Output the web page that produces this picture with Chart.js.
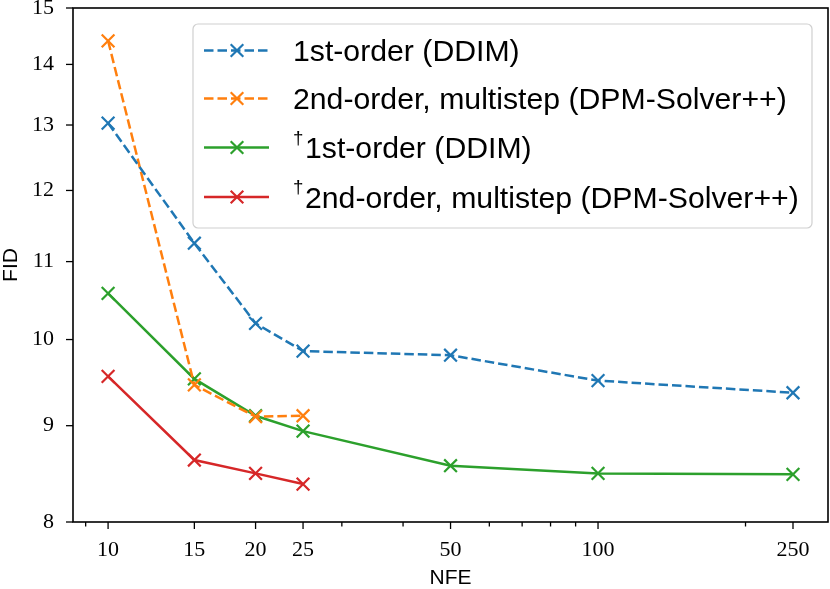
<!DOCTYPE html>
<html>
<head>
<meta charset="utf-8">
<script src="https://cdn.jsdelivr.net/npm/chart.js@4/dist/chart.umd.min.js"></script>
<style>
  html, body { margin: 0; padding: 0; background: #fff; }
  canvas { display: block; }
</style>
</head>
<body>
<canvas id="fidChart" width="830" height="589"></canvas>
<script>
// NFE values on the x axis
const nfe = [10, 15, 20, 25, 50, 100, 250];
const nfeShort = [10, 15, 20, 25];
const xMinorTicks = [9, 30, 40, 60, 70, 80, 90, 200];
const yTicks = [8, 9, 10, 11, 12, 13, 14, 15];

// FID values
const ddim = [13.03, 11.25, 10.20, 9.86, 9.81, 9.51, 9.37];
const dpmSolver = [14.41, 9.46, 9.10, 9.11];
const ddimDagger = [10.58, 9.53, 9.11, 8.94, 8.57, 8.49, 8.48];
const dpmSolverDagger = [9.56, 8.63, 8.49, 8.38];

const seriesLabels = [
  "1st-order (DDIM)",
  "2nd-order, multistep (DPM-Solver++)",
  "†1st-order (DDIM)",
  "†2nd-order, multistep (DPM-Solver++)"
];
const colors = ["#1f77b4", "#ff7f0e", "#2ca02c", "#d62728"];
const DASH = [9.5, 4];

function pts(xs, ys) {
  return xs.map((x, i) => ({ x: x, y: ys[i] }));
}

function makeSet(label, xs, ys, color, dashed) {
  return {
    label: label,
    data: pts(xs, ys),
    borderColor: color,
    backgroundColor: color,
    borderWidth: 2.5,
    borderDash: dashed ? DASH : [],
    pointStyle: "crossRot",
    pointRadius: 9,
    pointBorderWidth: 2.2,
    pointBorderColor: color,
    pointBackgroundColor: "rgba(0,0,0,0)",
    tension: 0,
    fill: false
  };
}

// spines, tick marks and the boxed legend
const framePlugin = {
  id: "frame",
  afterDatasetsDraw(chart) {
    const ctx = chart.ctx;
    const a = chart.chartArea;
    const xs = chart.scales.x, ys = chart.scales.y;
    ctx.save();
    ctx.strokeStyle = "#000";
    ctx.lineWidth = 1.3;
    ctx.setLineDash([]);
    nfe.forEach(v => {
      const px = xs.getPixelForValue(v);
      ctx.beginPath(); ctx.moveTo(px, a.bottom); ctx.lineTo(px, a.bottom + 7); ctx.stroke();
    });
    xMinorTicks.forEach(v => {
      const px = xs.getPixelForValue(v);
      ctx.beginPath(); ctx.moveTo(px, a.bottom); ctx.lineTo(px, a.bottom + 4.5); ctx.stroke();
    });
    yTicks.forEach(v => {
      const py = ys.getPixelForValue(v);
      ctx.beginPath(); ctx.moveTo(a.left, py); ctx.lineTo(a.left - 7, py); ctx.stroke();
    });
    ctx.lineWidth = 1.6;
    ctx.strokeRect(a.left, a.top, a.right - a.left, a.bottom - a.top);

    // legend box
    const bx = 193, by = 24, bw = 619, bh = 204, r = 5;
    ctx.beginPath();
    ctx.moveTo(bx + r, by);
    ctx.arcTo(bx + bw, by, bx + bw, by + bh, r);
    ctx.arcTo(bx + bw, by + bh, bx, by + bh, r);
    ctx.arcTo(bx, by + bh, bx, by, r);
    ctx.arcTo(bx, by, bx + bw, by, r);
    ctx.closePath();
    ctx.fillStyle = "rgba(255,255,255,0.8)";
    ctx.fill();
    ctx.strokeStyle = "#d0d0d0";
    ctx.lineWidth = 1.2;
    ctx.stroke();

    // fit the longest label to the measured width
    ctx.font = '100px "Liberation Sans"';
    const wLong = ctx.measureText(seriesLabels[1]).width;
    const fs = 100 * 494 / wLong;
    const rows = [50.5, 98.5, 147.5, 197];
    chart.data.datasets.forEach((ds, i) => {
      const y = rows[i];
      ctx.strokeStyle = ds.borderColor;
      ctx.lineWidth = ds.borderWidth;
      ctx.setLineDash(ds.borderDash);
      ctx.beginPath(); ctx.moveTo(204, y); ctx.lineTo(269, y); ctx.stroke();
      ctx.setLineDash([]);
      ctx.lineWidth = ds.pointBorderWidth;
      const m = 6.3;
      ctx.beginPath();
      ctx.moveTo(237 - m, y - m); ctx.lineTo(237 + m, y + m);
      ctx.moveTo(237 - m, y + m); ctx.lineTo(237 + m, y - m);
      ctx.stroke();

      ctx.fillStyle = "#000";
      ctx.textBaseline = "alphabetic";
      ctx.textAlign = "left";
      let text = ds.label;
      let tx = 293;
      if (text.startsWith("†")) {
        ctx.font = (fs * 0.62) + 'px "Liberation Sans"';
        ctx.fillText("†", 293, y - 4);
        text = text.slice(1);
        tx = 305;
      }
      ctx.font = fs + 'px "Liberation Sans"';
      ctx.fillText(text, tx, y + fs * 0.358);
    });
    ctx.restore();
  }
};

const ctx = document.getElementById("fidChart").getContext("2d");
new Chart(ctx, {
  type: "line",
  data: {
    datasets: [
      makeSet(seriesLabels[0], nfe, ddim, colors[0], true),
      makeSet(seriesLabels[1], nfeShort, dpmSolver, colors[1], true),
      makeSet(seriesLabels[2], nfe, ddimDagger, colors[2], false),
      makeSet(seriesLabels[3], nfeShort, dpmSolverDagger, colors[3], false)
    ]
  },
  options: {
    responsive: false,
    animation: false,
    events: [],
    layout: { autoPadding: false, padding: { top: 8, right: 2, bottom: 0, left: 0 } },
    plugins: { legend: { display: false }, tooltip: { enabled: false } },
    scales: {
      x: {
        type: "logarithmic",
        min: 8.48,
        max: 294.7,
        afterBuildTicks: s => {
          s.ticks = nfe.concat(xMinorTicks).sort((a, b) => a - b).map(v => ({ value: v }));
        },
        afterFit: s => { s.height = 67; s.paddingLeft = 0; s.paddingRight = 0; },
        grid: { display: false, drawTicks: false },
        border: { display: false },
        ticks: {
          autoSkip: false,
          maxRotation: 0,
          padding: 15,
          color: "#000",
          font: { family: "Liberation Serif", size: 22 },
          callback: v => nfe.includes(v) ? String(v) : ""
        },
        title: {
          display: true,
          text: "NFE",
          color: "#000",
          font: { family: "Liberation Sans", size: 21, lineHeight: 1 },
          padding: { top: 0, bottom: 0.5 }
        }
      },
      y: {
        type: "logarithmic",
        min: 8,
        max: 15,
        afterBuildTicks: s => { s.ticks = yTicks.map(v => ({ value: v })); },
        afterFit: s => { s.width = 73; s.paddingTop = 0; s.paddingBottom = 0; },
        grid: { display: false, drawTicks: false },
        border: { display: false },
        ticks: {
          padding: 19,
          color: "#000",
          font: { family: "Liberation Serif", size: 22 },
          callback: v => String(v)
        },
        title: {
          display: true,
          text: "FID",
          color: "#000",
          font: { family: "Liberation Sans", size: 21, lineHeight: 1 },
          padding: { top: 0.5, bottom: 0 }
        }
      }
    }
  },
  plugins: [framePlugin]
});
</script>
</body>
</html>
